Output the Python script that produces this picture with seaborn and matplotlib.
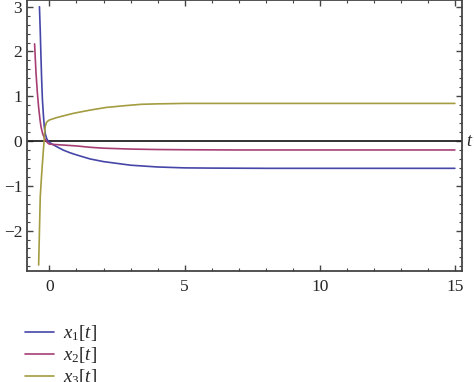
import numpy as np
import pandas as pd
import matplotlib
matplotlib.use("Agg")
import matplotlib.pyplot as plt
from matplotlib.ticker import MultipleLocator
import matplotlib.transforms as mtransforms
import seaborn as sns

# values
t1 = [-0.37, -0.34, -0.32, -0.29, -0.26, -0.22, -0.19, -0.15, -0.1, -0.05, 0, 0.1, 0.25,
      0.5, 0.75, 1, 1.5, 2, 2.5, 3, 3.5, 4, 5, 6, 8, 10, 12, 15]
x1 = [3.0, 2.45, 2.0, 1.4, 0.92, 0.55, 0.31, 0.15, 0.05, 0.0, -0.03, -0.07, -0.12,
      -0.2, -0.26, -0.31, -0.4, -0.46, -0.5, -0.54, -0.56, -0.58, -0.6, -0.605, -0.61, -0.61, -0.61, -0.61]

t2 = [-0.55, -0.5, -0.45, -0.4, -0.35, -0.31, -0.25, -0.18, -0.1, -0.05, 0, 0.25, 0.5,
      1, 1.5, 2, 3, 4, 5, 7, 10, 15]
x2 = [2.17, 1.55, 1.1, 0.75, 0.48, 0.31, 0.16, 0.06, -0.02, -0.05, -0.07, -0.08, -0.09,
      -0.11, -0.14, -0.16, -0.18, -0.19, -0.195, -0.2, -0.2, -0.2]

t3 = [-0.4, -0.37, -0.34, -0.3, -0.26, -0.2, -0.16, -0.12, -0.09, -0.05, 0, 0.25, 0.5,
      0.9, 1.5, 2.1, 2.8, 3.4, 4, 5, 7, 10, 15]
x3 = [-2.77, -2.0, -1.24, -0.85, -0.5, 0.0, 0.31, 0.4, 0.43, 0.45, 0.47, 0.52, 0.56,
      0.62, 0.69, 0.75, 0.79, 0.82, 0.83, 0.84, 0.84, 0.84, 0.84]

labels = [r"$x_1[t]$", r"$x_2[t]$", r"$x_3[t]$"]
colors = ["#4646a8", "#a63e74", "#a39c40"]

df = pd.concat([
    pd.DataFrame({"t": t1, "value": x1, "series": labels[0]}),
    pd.DataFrame({"t": t2, "value": x2, "series": labels[1]}),
    pd.DataFrame({"t": t3, "value": x3, "series": labels[2]}),
], ignore_index=True)

sns.set_style("ticks")
plt.rcParams["font.family"] = ["Liberation Serif", "DejaVu Serif"]
plt.rcParams["mathtext.fontset"] = "custom"
plt.rcParams["mathtext.rm"] = "Liberation Serif"
plt.rcParams["mathtext.it"] = "Liberation Serif:italic"

fig = plt.figure(figsize=(4.74, 3.82), dpi=100)
ax = fig.add_axes([0.057, 0.291, 0.918, 0.709])

ax.axhline(0, color="#222222", lw=1.3, zorder=1)
sns.lineplot(data=df, x="t", y="value", hue="series", palette=colors,
             estimator=None, sort=False, lw=1.2, ax=ax, legend=True)

ax.set_xlim(-0.83, 15.27)
ax.set_ylim(-2.9, 3.15)
ax.xaxis.set_major_locator(MultipleLocator(5))
ax.xaxis.set_minor_locator(MultipleLocator(1))
ax.yaxis.set_major_locator(MultipleLocator(1))
ax.yaxis.set_minor_locator(MultipleLocator(0.2))
ax.tick_params(which="both", direction="in", top=True, right=True,
               labeltop=False, labelright=False, color="#444444", labelsize=12.5)
ax.tick_params(which="major", length=4, width=1)
ax.tick_params(which="minor", length=2, width=0.8)
ax.tick_params(axis="x", pad=6)
ax.set_yticks([-2, -1, 0, 1, 2, 3])
ax.set_yticklabels(["\u22122", "\u22121", "0", "1", "2", "3"])
ax.set_xlabel("")
ax.set_ylabel("")
for s in ax.spines.values():
    s.set_color("#444444")
    s.set_linewidth(1.3)

trans = mtransforms.blended_transform_factory(ax.transAxes, ax.transData)
ax.text(1.008, 0, r"$t$", transform=trans, ha="left", va="center", fontsize=13)

handles, labs = ax.get_legend_handles_labels()
ax.legend(handles, labs, loc="upper left", bbox_to_anchor=(0.034, 0.178),
          bbox_transform=fig.transFigure, frameon=False, fontsize=13.5,
          handlelength=1.5, labelspacing=0.1, handletextpad=0.5, borderpad=0)

fig.savefig("out.png", dpi=100)
